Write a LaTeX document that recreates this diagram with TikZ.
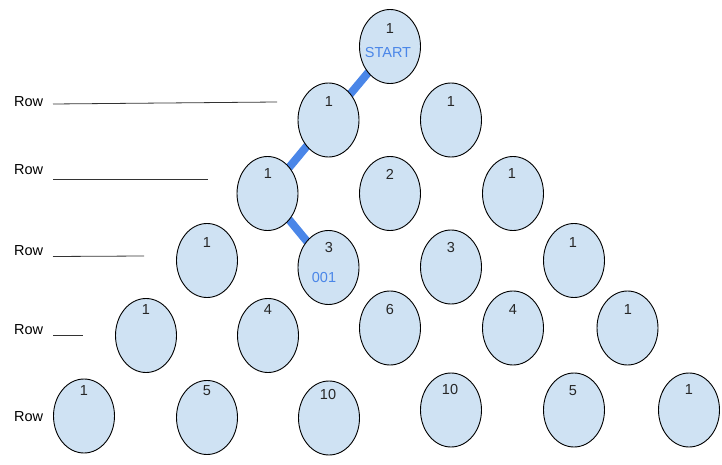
\documentclass[tikz,border=0pt]{standalone}
\usepackage{fontspec}
\setmainfont{Liberation Sans}
\usetikzlibrary{shapes.geometric}
\definecolor{cellfill}{HTML}{CFE2F3}
\definecolor{pathblue}{HTML}{4A86E8}
\tikzset{
  cell/.style={ellipse, draw=black, line width=0.9pt, fill=cellfill, minimum width=61pt, minimum height=74pt, inner sep=0pt},
  num/.style={font=\fontsize{14.5}{15}\selectfont, text=black!85, inner sep=0pt},
  blue text/.style={font=\fontsize{14.5}{15}\selectfont, text=pathblue, inner sep=0pt},
  rowlabel/.style={font=\fontsize{14.5}{15}\selectfont, text=black, inner sep=0pt, anchor=west},
  rowline/.style={draw=black!80, line width=0.8pt},
  pathline/.style={draw=pathblue, line width=8pt}
}
\begin{document}
\begin{tikzpicture}[x=1pt, y=-1pt]
\useasboundingbox (0,0) rectangle (722,465);
% path connectors (behind cells)
\coordinate (p0) at (390,46.5);
\coordinate (p1) at (328.5,120);
\coordinate (p2) at (267.5,193.5);
\coordinate (p3) at (328.5,267.5);
\draw[pathline] (p0) -- (p1);
\draw[pathline] (p1) -- (p2);
\draw[pathline] (p2) -- (p3);
% cells
\node[cell] (c00) at (390,46.5) {};
\node[cell] (c10) at (328.5,120) {};
\node[cell] (c11) at (451,120) {};
\node[cell] (c20) at (267.5,193.5) {};
\node[cell] (c21) at (390,193.5) {};
\node[cell] (c22) at (513,193.5) {};
\node[cell] (c30) at (207,260.5) {};
\node[cell] (c31) at (328.5,267.5) {};
\node[cell] (c32) at (451,267) {};
\node[cell] (c33) at (574,260.5) {};
\node[cell] (c40) at (146,335.5) {};
\node[cell] (c41) at (268,335.5) {};
\node[cell] (c42) at (390,328) {};
\node[cell] (c43) at (513,328) {};
\node[cell] (c44) at (627.5,328) {};
\node[cell] (c50) at (84,416) {};
\node[cell] (c51) at (207,417.5) {};
\node[cell] (c52) at (329,418) {};
\node[cell] (c53) at (451,410) {};
\node[cell] (c54) at (574,410) {};
\node[cell] (c55) at (689,410) {};
% numbers
\node[num] (n00) at (390,29) {1};
\node[blue text] (start) at (388,52.5) {START};
\node[num] (n10) at (329,102) {1};
\node[num] (n11) at (451,102) {1};
\node[num] (n20) at (268,174) {1};
\node[num] (n21) at (390,174) {2};
\node[num] (n22) at (512,174) {1};
\node[num] (n30) at (207,243) {1};
\node[num] (n31) at (329,248) {3};
\node[blue text] (code) at (324,278) {001};
\node[num] (n32) at (451,248) {3};
\node[num] (n33) at (573,243) {1};
\node[num] (n40) at (146,310) {1};
\node[num] (n41) at (268,310) {4};
\node[num] (n42) at (390,310) {6};
\node[num] (n43) at (513,310) {4};
\node[num] (n44) at (628,310) {1};
\node[num] (n50) at (84,391) {1};
\node[num] (n51) at (207,391) {5};
\node[num] (n52) at (328,395) {10};
\node[num] (n53) at (450,390) {10};
\node[num] (n54) at (573,390.5) {5};
\node[num] (n55) at (689,390) {1};
% row labels
\node[rowlabel] (r1) at (14,101.5) {Row};
\node[rowlabel] (r2) at (14,170) {Row};
\node[rowlabel] (r3) at (14,251) {Row};
\node[rowlabel] (r4) at (14,329.5) {Row};
\node[rowlabel] (r5) at (14,417) {Row};
\coordinate (l1a) at (53,104); \coordinate (l1b) at (277,102);
\coordinate (l2a) at (53,179.5); \coordinate (l2b) at (208,179.5);
\coordinate (l3a) at (53,256.5); \coordinate (l3b) at (144,256);
\coordinate (l4a) at (53,335); \coordinate (l4b) at (83,335);
\draw[rowline] (l1a) -- (l1b);
\draw[rowline] (l2a) -- (l2b);
\draw[rowline] (l3a) -- (l3b);
\draw[rowline] (l4a) -- (l4b);
\end{tikzpicture}
\end{document}
